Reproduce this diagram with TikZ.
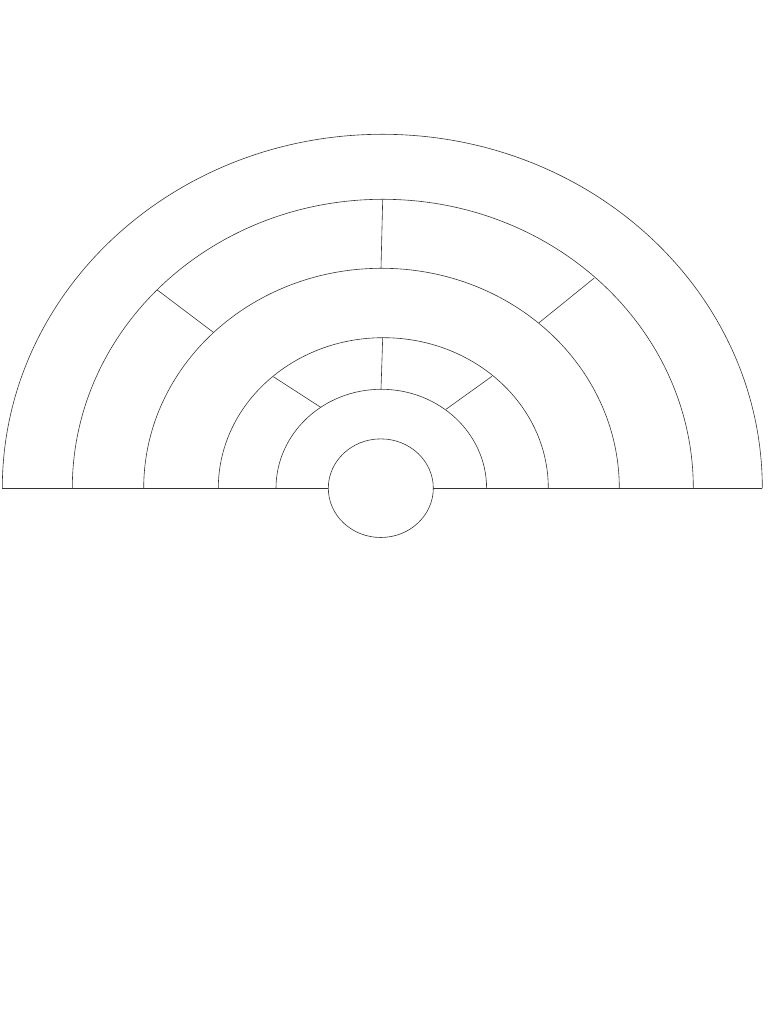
\documentclass[tikz,border=0pt]{standalone}
\begin{document}
\begin{tikzpicture}[x=1pt,y=1pt,
  fanline/.style={draw=black!80,line width=0.6pt}]
\fill[white] (0,0) rectangle (768,1024);
\useasboundingbox (0,0) rectangle (768,1024);
\def\B{535.7}
% base line, interrupted by the centre circle
\draw[fanline] (2.3,\B) -- (328.3,\B);
\draw[fanline] (433.3,\B) -- (762.3,\B);
% arcs
\draw[fanline] (2.3,\B) arc[start angle=180,end angle=0,x radius=380,y radius=354];
\draw[fanline] (72.3,\B) arc[start angle=180,end angle=0,x radius=310.5,y radius=289];
\draw[fanline] (143.7,\B) arc[start angle=180,end angle=0,x radius=237.8,y radius=220];
\draw[fanline] (218.3,\B) arc[start angle=180,end angle=0,x radius=165,y radius=150.6];
\draw[fanline] (276,\B) arc[start angle=180,end angle=0,x radius=105.3,y radius=99];
% centre circle
\draw[fanline] (380.8,535.8) ellipse[x radius=52.5,y radius=49.3];
% dividers of the outer divided ring
\draw[fanline] (382.7,824.7) -- (381,755.7);
\draw[fanline] (157.3,734) -- (213.3,691.7);
\draw[fanline] (594.3,746) -- (538.7,701);
% dividers of the inner divided ring
\draw[fanline] (382.7,686.3) -- (381,634.7);
\draw[fanline] (273.3,647.3) -- (320.7,616.7);
\draw[fanline] (492,647.7) -- (446,614.7);
\end{tikzpicture}
\end{document}
